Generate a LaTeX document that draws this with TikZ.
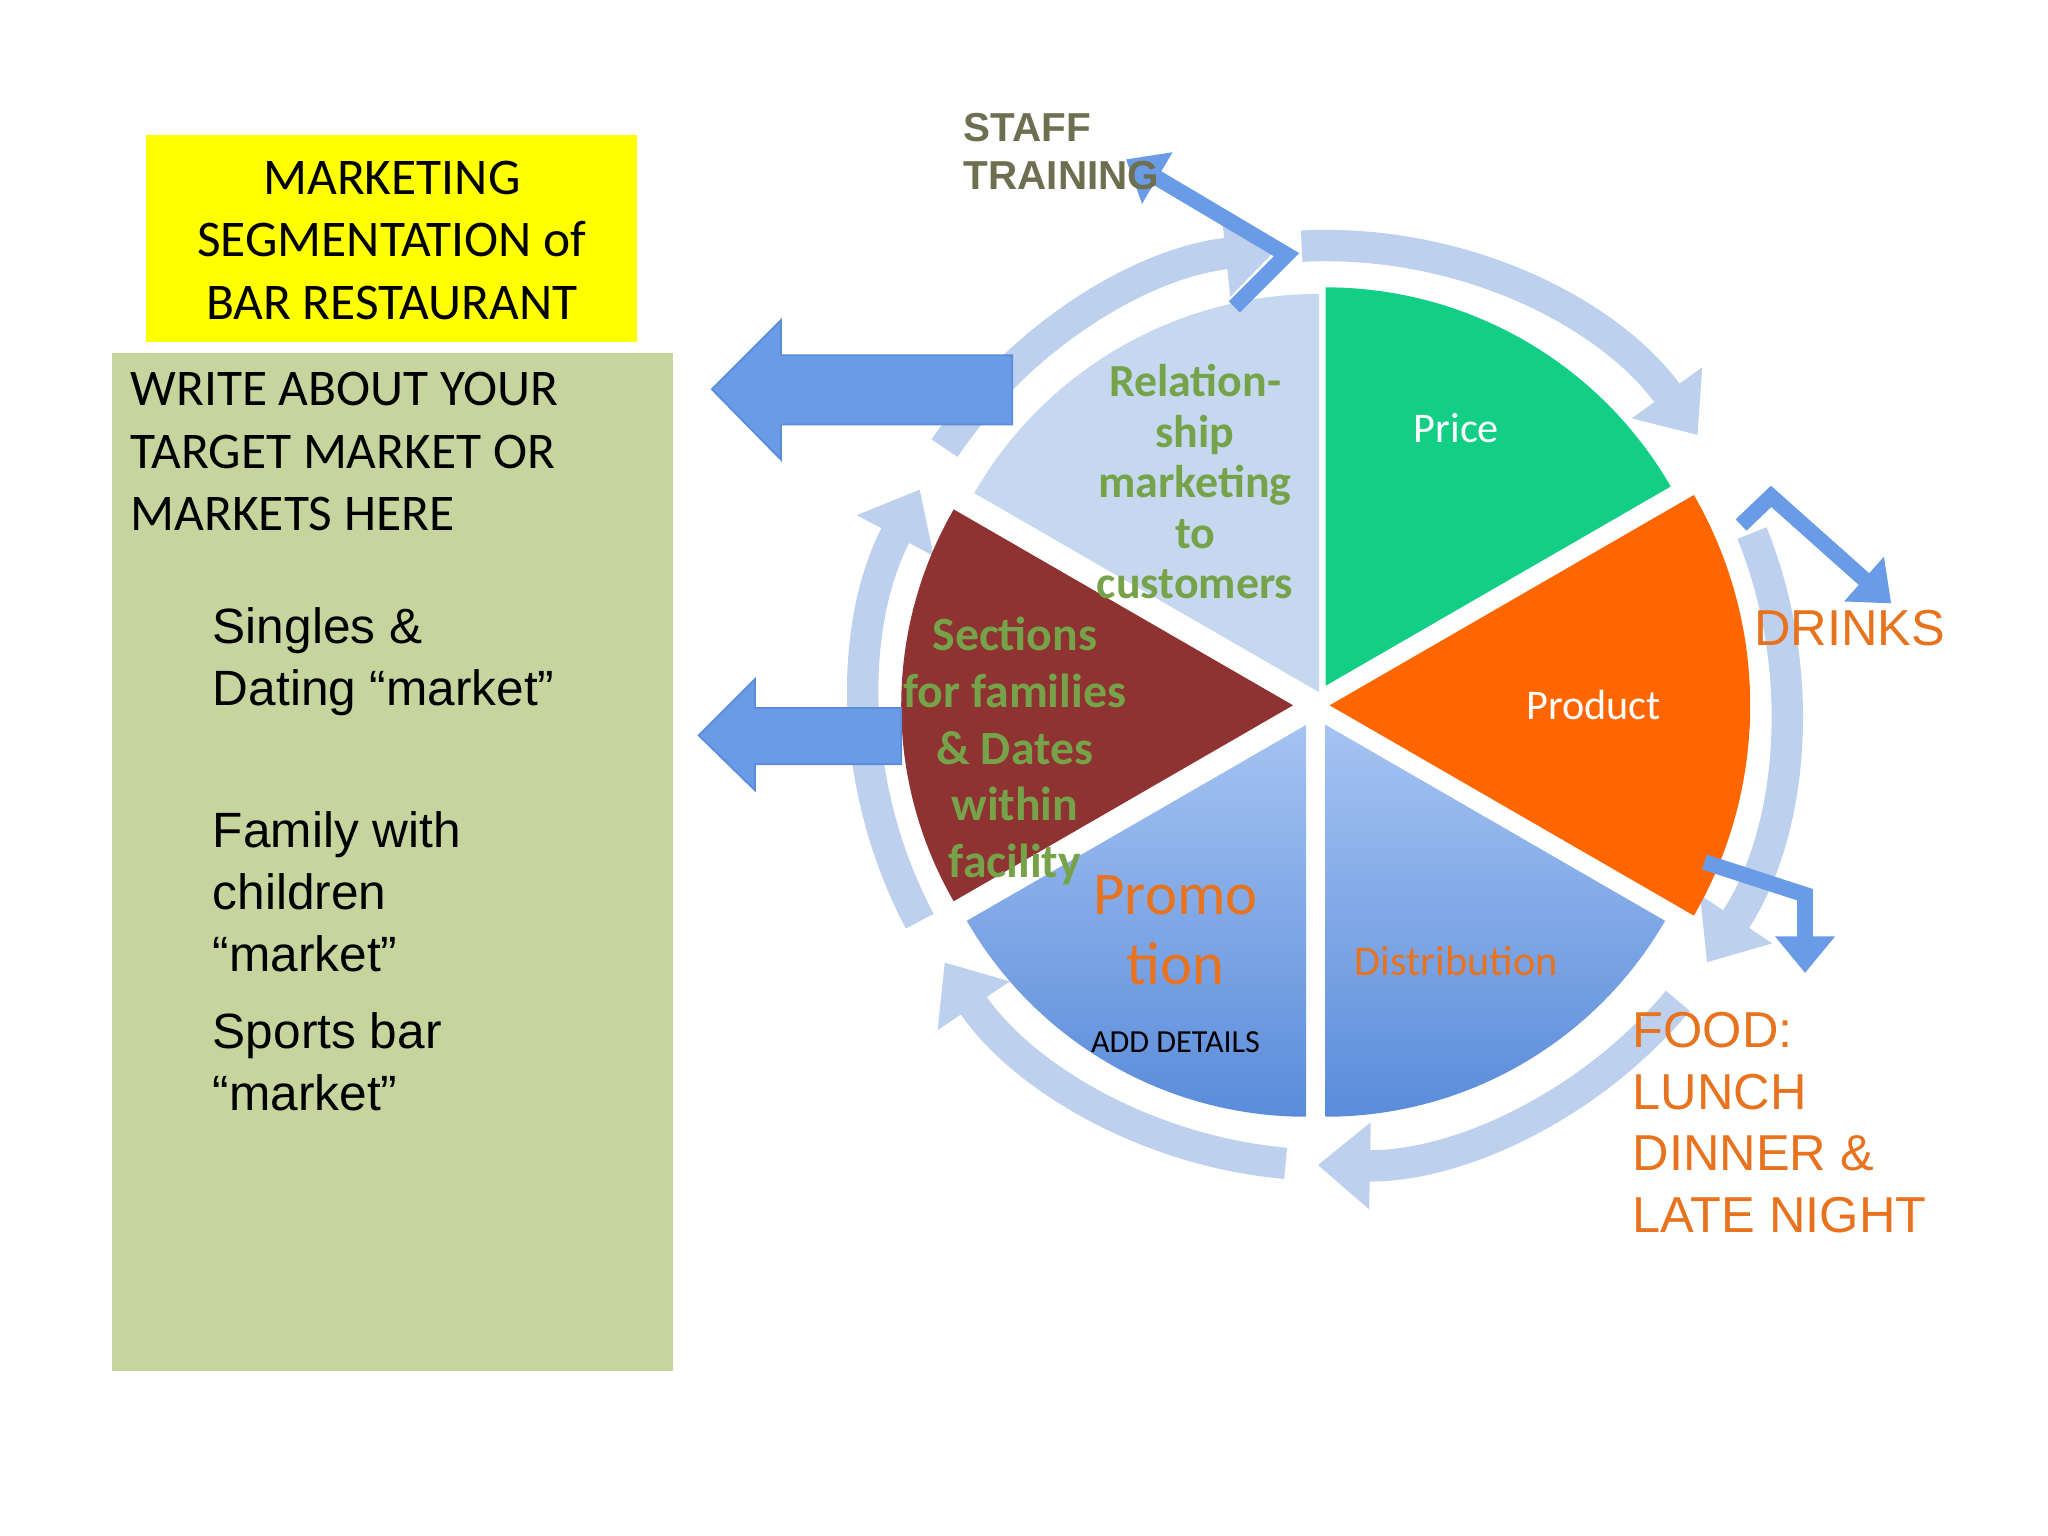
\documentclass[tikz,border=0pt]{standalone}
\usepackage{fontspec}
\setmainfont{Carlito}
\newfontfamily\arialf{Liberation Sans}
\usetikzlibrary{arrows.meta}
\definecolor{relb}{HTML}{C6D8F0}
\definecolor{priceg}{HTML}{13CF85}
\definecolor{prodo}{HTML}{FF6600}
\definecolor{secr}{HTML}{8E3232}
\definecolor{blueA}{HTML}{5A8CDA}
\definecolor{blueB}{HTML}{A5C3F2}
\definecolor{ringc}{HTML}{BDD0EE}
\definecolor{ylw}{HTML}{FFFF00}
\definecolor{boxg}{HTML}{C6D59E}
\definecolor{greent}{HTML}{76A34A}
\definecolor{orng}{HTML}{E8731F}
\definecolor{staffc}{HTML}{6E6E50}
\definecolor{arrb}{HTML}{6A9BE6}
\tikzset{
 ring/.style={line width=0.6cm,color=ringc,-{Triangle[length=1.0cm,width=1.6cm]}},
 bent/.style={line width=0.3cm,color=arrb,line join=miter,-{Triangle[length=0.7cm,width=1.1cm]}},
 bigarr/.style={fill=arrb,draw=blueA,line width=1pt},
 gtxt/.style={text=greent,font=\bfseries\fontsize{25}{27.5}\selectfont,align=center},
 otxt/.style={text=orng,font=\arialf\fontsize{27.5}{33.5}\selectfont,align=left},
 blk/.style={font=\arialf\fontsize{27}{34}\selectfont,align=left,anchor=north west},
}
\begin{document}
\begin{tikzpicture}[x=0.025cm,y=-0.025cm]
\useasboundingbox (0,0) rectangle (1568,1176);
% left boxes
\fill[ylw] (112,103) rectangle (488,262);
\node[font=\fontsize{28}{34}\selectfont,align=center] (title) at (300,184) {MARKETING\\SEGMENTATION of\\BAR RESTAURANT};
\fill[boxg] (86,270) rectangle (515,1050);
\node[font=\fontsize{28}{34}\selectfont,align=left,anchor=north west] (write) at (95,280) {WRITE ABOUT YOUR\\TARGET MARKET OR\\MARKETS HERE};
\node[blk] (s1) at (158,460) {Singles \&\\Dating “market”};
\node[blk] (s2) at (158,616) {Family with\\children\\“market”};
\node[blk] (s3) at (158,770) {Sports bar\\“market”};
% ring arrows
\coordinate (rc) at (1015,540);
\draw[ring] ([shift={(-93:352)}]rc) arc (-93:-36:352);
\draw[ring] ([shift={(-22:352)}]rc) arc (-22:34:352);
\draw[ring] ([shift={(40:352)}]rc) arc (40:91:352);
\draw[ring] ([shift={(95:352)}]rc) arc (95:146:352);
\draw[ring] ([shift={(152:352)}]rc) arc (152:208:352);
\draw[ring] ([shift={(214:352)}]rc) arc (214:264:352);
% wedges
\fill[relb] (1010,530) -- ++(-150:305) arc (-150:-90:305) -- cycle;
\fill[priceg] (1015,525) -- ++(-90:305) arc (-90:-30:305) -- cycle;
\fill[prodo] (1018,540) -- ++(-30:322) arc (-30:30:322) -- cycle;
\shade[bottom color=blueA,top color=blueB] (1015,555) -- ++(30:300) arc (30:90:300) -- cycle;
\shade[bottom color=blueA,top color=blueB] (1000,555) -- ++(90:300) arc (90:150:300) -- cycle;
\fill[secr] (990,540) -- ++(150:300) arc (150:210:300) -- cycle;
% big left arrows
\draw[bigarr] (775,272) -- (598,272) -- (598,245) -- (545,298) -- (598,352) -- (598,325) -- (775,325) -- cycle;
\draw[bigarr] (690,542) -- (578,542) -- (578,520) -- (535,563) -- (578,605) -- (578,585) -- (690,585) -- cycle;
% bent arrows
\draw[bent] (945,235) -- (985,195) -- (862,122);
\draw[bent] (1333,402) -- (1356,380) -- (1448,462);
\draw[bent] (1305,660) -- (1382,685) -- (1382,745);
% texts
\node[gtxt] (rel) at (915,369) {Relation-\\ship\\marketing\\to\\customers};
\node[gtxt,font=\bfseries\fontsize{26}{31}\selectfont] (sec) at (777,575) {Sections\\for families\\\& Dates\\within\\facility};
\node[text=white,font=\fontsize{23}{26}\selectfont] (price) at (1115,328) {Price};
\node[text=white,font=\fontsize{23}{26}\selectfont] (prod) at (1220,540) {Product};
\node[text=orng,font=\fontsize{23}{26}\selectfont] (dist) at (1115,736) {Distribution};
\node[text=orng,font=\fontsize{33}{38}\selectfont,align=center] (promo) at (900,712) {Promo\\tion};
\node[font=\fontsize{17.5}{20}\selectfont] (add) at (900,798) {ADD DETAILS};
\node[text=staffc,font=\arialf\bfseries\fontsize{22}{26}\selectfont,align=left,anchor=west] (staff) at (733,116) {STAFF\\TRAINING};
\node[otxt,anchor=west] (drinks) at (1338,481) {DRINKS};
\node[otxt,anchor=north west] (food) at (1245,770) {FOOD:\\LUNCH\\DINNER \&\\LATE NIGHT};
\end{tikzpicture}
\end{document}
